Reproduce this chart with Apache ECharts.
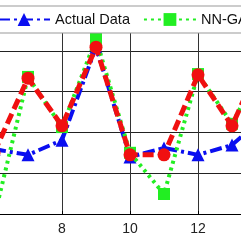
<!DOCTYPE html>
<html>
<head>
<meta charset="utf-8">
<script src="https://cdn.jsdelivr.net/npm/echarts@6/dist/echarts.min.js"></script>
<style>
  html, body { margin: 0; padding: 0; background: #fff; }
  #chart { width: 241px; height: 241px; }
</style>
</head>
<body>
<div id="chart"></div>
<script>
// x positions (sample index)
const xs = [6, 7, 8, 9, 10, 11, 12, 13, 14]
// values (y units, no labels visible)
const actualData = [1.59, 1.45, 1.81, 4.09, 1.40, 1.62, 1.45, 1.69, 2.43]
const nnG = [-0.1, 3.36, 2.13, 4.29, 1.50, 0.49, 3.43, 2.21, 3.8]
const redModel = [1.50, 3.33, 2.16, 4.09, 1.45, 1.45, 3.41, 2.16, 4.02]
const xTicks = [6, 8, 10, 12, 14]

const pairs = (ys) => xs.map((x, i) => [x, ys[i]])

let mychart = echarts.init(document.getElementById('chart'))
mychart.setOption({
  animation: false,
  textStyle: { fontFamily: 'Liberation Sans, Arial, sans-serif' },
  grid: { left: -6, right: -25, top: 10, bottom: 27, outerBoundsMode: 'none', containLabel: false },
  legend: {
    left: -8,
    top: 6,
    width: 600,
    padding: [6, 5],
    itemWidth: 52,
    itemHeight: 16,
    itemGap: 13,
    backgroundColor: '#fff',
    borderColor: '#999',
    borderWidth: 1,
    textStyle: { fontSize: 14.5, color: '#111' },
    data: ['Actual Data', 'NN-GA', 'NN-PSO'],
  },
  xAxis: {
    type: 'value',
    min: xTicks[0],
    max: xTicks[xTicks.length - 1],
    interval: 2,
    axisLine: { lineStyle: { color: '#000', width: 1 } },
    axisTick: { inside: true, length: 3, lineStyle: { color: '#000' } },
    axisLabel: { fontSize: 14, color: '#222', margin: 8 },
    splitLine: { show: true, lineStyle: { color: '#333', width: 1 } },
  },
  yAxis: {
    type: 'value',
    min: 0,
    max: 5,
    interval: 1,
    axisLine: { show: false },
    axisTick: { show: false },
    axisLabel: { show: false },
    splitLine: { show: true, lineStyle: { color: '#222', width: 1 } },
  },
  series: [
    {
      name: 'Actual Data',
      type: 'line',
      data: pairs(actualData),
      symbol: 'triangle',
      symbolSize: 13,
      color: '#0a0ef0',
      lineStyle: { width: 4, type: [12, 4, 3, 4], color: '#0a0ef0' },
      itemStyle: { color: '#0a0ef0' },
      z: 2,
    },
    {
      name: 'NN-GA',
      type: 'line',
      data: pairs(nnG),
      symbol: 'rect',
      symbolSize: 12,
      color: '#22ee22',
      lineStyle: { width: 4, type: [3, 4], color: '#22ee22' },
      itemStyle: { color: '#22ee22' },
      z: 3,
    },
    {
      name: 'NN-PSO',
      type: 'line',
      data: pairs(redModel),
      symbol: 'circle',
      symbolSize: 13,
      color: '#f01010',
      lineStyle: { width: 5, type: [11, 5], color: '#f01010' },
      itemStyle: { color: '#f01010' },
      z: 4,
    },
  ],
})
</script>
</body>
</html>
